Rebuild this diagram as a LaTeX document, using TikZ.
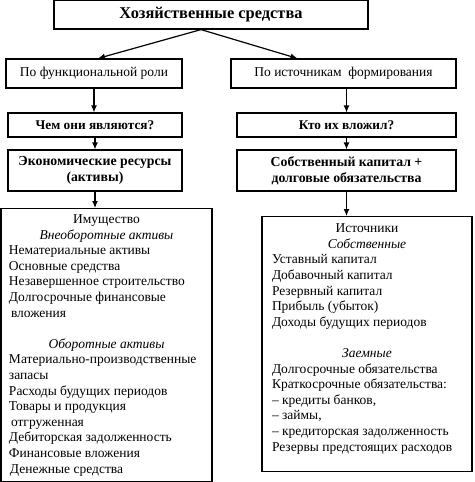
\documentclass[tikz,border=0pt]{standalone}
\usepackage{fontspec}
\setmainfont{Liberation Serif}
\usetikzlibrary{arrows.meta}

\begin{document}
\begin{tikzpicture}[x=1pt, y=-1pt, ->, >={Latex[length=7pt,width=6pt]}, line width=1.2pt,
    main/.style = {draw, line width=1.2pt, inner sep=0pt, minimum height=29pt, font=\fontsize{13.5}{15}\selectfont},
    ask/.style = {main, minimum height=24pt, font=\fontsize{13.3}{15}\selectfont\bfseries},
    res/.style = {main, minimum height=41pt, align=center, font=\fontsize{13.8}{16}\selectfont\bfseries},
    list/.style = {main, anchor=north, font=\fontsize{13.5}{15.6}\selectfont}]
    \useasboundingbox (0,0) rectangle (474,482);
    % Nodes

    \node[main, minimum width=314pt, minimum height=28.5pt, font=\fontsize{16.4}{18}\selectfont\bfseries] (top) at (211,14.75) {Хозяйственные средства};
    \node[main, minimum width=176pt] (fun) at (94,73.5) {По функциональной роли};
    \node[main, minimum width=225pt] (src) at (343.5,73.5) {По источникам\ \ формирования};
    \node[ask, minimum width=174pt] (q1) at (95,125) {Чем они являются?};
    \node[ask, minimum width=219pt] (q2) at (346.5,125) {Кто их вложил?};
    \node[res, minimum width=174pt] (res1) at (95,170.5) {Экономические ресурсы\\(активы)};
    \node[res, minimum width=219pt] (res2) at (346.5,170.5) {Собственный капитал +\\долговые обязательства};
    \node[list, minimum width=211pt, minimum height=273pt] (assets) at (106.5,208) {%
      \begin{tabular}{@{}p{195pt}@{}}
        \multicolumn{1}{@{}c@{}}{Имущество}\\
        \multicolumn{1}{@{}c@{}}{\textit{Внеоборотные активы}}\\
        Нематериальные активы\\
        Основные средства\\
        Незавершенное строительство\\
        Долгосрочные финансовые\\
        \hspace*{2pt}вложения\\
        \\
        \multicolumn{1}{@{}c@{}}{\textit{Оборотные активы}}\\
        Материально-производственные\\
        запасы\\
        Расходы будущих периодов\\
        Товары и продукция\\
        \hspace*{2pt}отгруженная\\
        Дебиторская задолженность\\
        Финансовые вложения\\
        \hspace*{1pt}Денежные средства
      \end{tabular}};
    \node[list, minimum width=210pt, minimum height=255pt] (sources) at (367,216) {%
      \begin{tabular}{@{}p{190pt}@{}}
        \multicolumn{1}{@{}c@{}}{Источники}\\
        \multicolumn{1}{@{}c@{}}{\textit{Собственные}}\\
        Уставный капитал\\
        Добавочный капитал\\
        Резервный капитал\\
        Прибыль (убыток)\\
        Доходы будущих периодов\\
        \\
        \multicolumn{1}{@{}c@{}}{\textit{Заемные}}\\
        Долгосрочные обязательства\\
        Краткосрочные обязательства:\\
        – кредиты банков,\\
        – займы,\\
        – кредиторская задолженность\\
        Резервы предстоящих расходов\\[10.6pt]
      \end{tabular}};

    % Edges
    \draw ([xshift=-10pt]top.south) -- ([xshift=4pt]fun.north);
    \draw ([xshift=-10pt]top.south) -- ([xshift=67pt]src.north west);
    \draw (fun.south) -- (fun.south |- q1.north);
    \draw (q2.north |- src.south) -- (q2.north);
    \draw (q1.south) -- (res1.north);
    \draw (q2.south) -- (res2.north);
    \draw (res1.south) -- (res1.south |- assets.north);
    \draw (res2.south) -- (res2.south |- sources.north);
\end{tikzpicture}
\end{document}
